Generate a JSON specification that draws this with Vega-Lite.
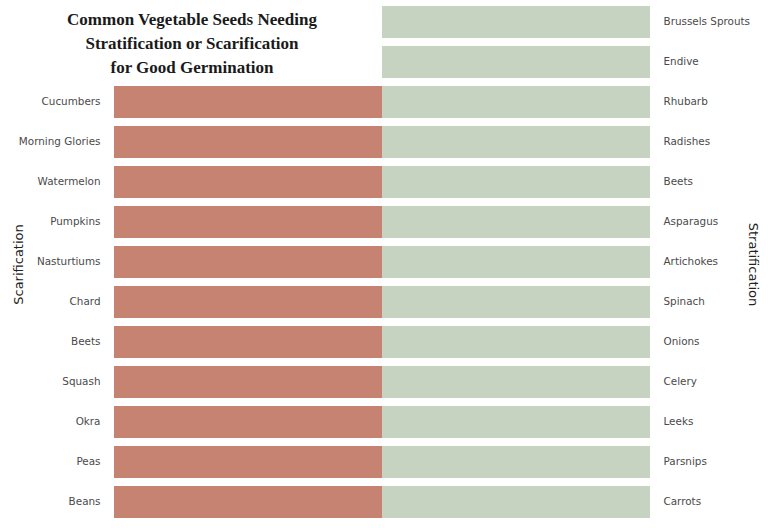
{
  "$schema": "https://vega.github.io/schema/vega-lite/v6.json",
  "autosize": {"type": "none"},
  "padding": {"left": 114, "top": 2, "right": 118, "bottom": 6},
  "width": 536,
  "height": 520,
  "background": "white",
  "title": {
    "text": ["Common Vegetable Seeds Needing", "Stratification or Scarification", "for Good Germination"],
    "font": "Liberation Serif",
    "fontSize": 17,
    "fontWeight": "bold",
    "color": "#1a1a1a",
    "lineHeight": 24,
    "anchor": "middle",
    "frame": "group",
    "orient": "top",
    "baseline": "top",
    "offset": 0,
    "dx": -190,
    "dy": 75
  },
  "data": {
    "values": [
      {"crop": "Cucumbers", "method": "Scarification", "value": -1},
      {"crop": "Morning Glories", "method": "Scarification", "value": -1},
      {"crop": "Watermelon", "method": "Scarification", "value": -1},
      {"crop": "Pumpkins", "method": "Scarification", "value": -1},
      {"crop": "Nasturtiums", "method": "Scarification", "value": -1},
      {"crop": "Chard", "method": "Scarification", "value": -1},
      {"crop": "Beets", "method": "Scarification", "value": -1},
      {"crop": "Squash", "method": "Scarification", "value": -1},
      {"crop": "Okra", "method": "Scarification", "value": -1},
      {"crop": "Peas", "method": "Scarification", "value": -1},
      {"crop": "Beans", "method": "Scarification", "value": -1},
      {"crop": "Brussels Sprouts", "method": "Stratification", "value": 1},
      {"crop": "Endive", "method": "Stratification", "value": 1},
      {"crop": "Rhubarb", "method": "Stratification", "value": 1},
      {"crop": "Radishes", "method": "Stratification", "value": 1},
      {"crop": "Beets", "method": "Stratification", "value": 1},
      {"crop": "Asparagus", "method": "Stratification", "value": 1},
      {"crop": "Artichokes", "method": "Stratification", "value": 1},
      {"crop": "Spinach", "method": "Stratification", "value": 1},
      {"crop": "Onions", "method": "Stratification", "value": 1},
      {"crop": "Celery", "method": "Stratification", "value": 1},
      {"crop": "Leeks", "method": "Stratification", "value": 1},
      {"crop": "Parsnips", "method": "Stratification", "value": 1},
      {"crop": "Carrots", "method": "Stratification", "value": 1}
    ]
  },
  "config": {
    "view": {"stroke": null},
    "axis": {
      "domain": false,
      "ticks": false,
      "grid": false,
      "labelFont": "DejaVu Sans",
      "labelFontSize": 10.4,
      "labelColor": "#4a4a4a",
      "titleFont": "DejaVu Sans",
      "titleFontSize": 13,
      "titleFontWeight": "normal",
      "titleColor": "#222222"
    }
  },
  "layer": [
    {
      "transform": [{"filter": "datum.method === 'Scarification'"}],
      "mark": {"type": "bar"},
      "encoding": {
        "y": {
          "field": "crop",
          "type": "nominal",
          "scale": {
            "domain": [" ", "  ", "Cucumbers", "Morning Glories", "Watermelon", "Pumpkins", "Nasturtiums", "Chard", "Beets", "Squash", "Okra", "Peas", "Beans"],
            "paddingInner": 0.2,
            "paddingOuter": 0.1
          },
          "axis": {
            "orient": "left",
            "title": "Scarification",
            "labelPadding": 14,
            "titleX": -96,
            "titleY": 262,
            "titleAngle": 270,
            "titleAlign": "center",
            "titleBaseline": "middle"
          }
        },
        "x": {
          "field": "value",
          "type": "quantitative",
          "scale": {"domain": [-1, 1]},
          "axis": null
        },
        "x2": {"datum": 0},
        "color": {
          "field": "method",
          "type": "nominal",
          "scale": {"domain": ["Scarification", "Stratification"], "range": ["#c78372", "#c5d3c0"]},
          "legend": null
        }
      }
    },
    {
      "transform": [{"filter": "datum.method === 'Stratification'"}],
      "mark": {"type": "bar"},
      "encoding": {
        "y": {
          "field": "crop",
          "type": "nominal",
          "scale": {
            "domain": ["Brussels Sprouts", "Endive", "Rhubarb", "Radishes", "Beets", "Asparagus", "Artichokes", "Spinach", "Onions", "Celery", "Leeks", "Parsnips", "Carrots"],
            "paddingInner": 0.2,
            "paddingOuter": 0.1
          },
          "axis": {
            "orient": "right",
            "title": "Stratification",
            "labelPadding": 13,
            "titleX": 102,
            "titleY": 262,
            "titleAngle": 90,
            "titleAlign": "center",
            "titleBaseline": "middle"
          }
        },
        "x": {
          "field": "value",
          "type": "quantitative",
          "scale": {"domain": [-1, 1]},
          "axis": null
        },
        "x2": {"datum": 0},
        "color": {
          "field": "method",
          "type": "nominal",
          "scale": {"domain": ["Scarification", "Stratification"], "range": ["#c78372", "#c5d3c0"]},
          "legend": null
        }
      }
    }
  ],
  "resolve": {"scale": {"y": "independent"}, "axis": {"y": "independent"}}
}
